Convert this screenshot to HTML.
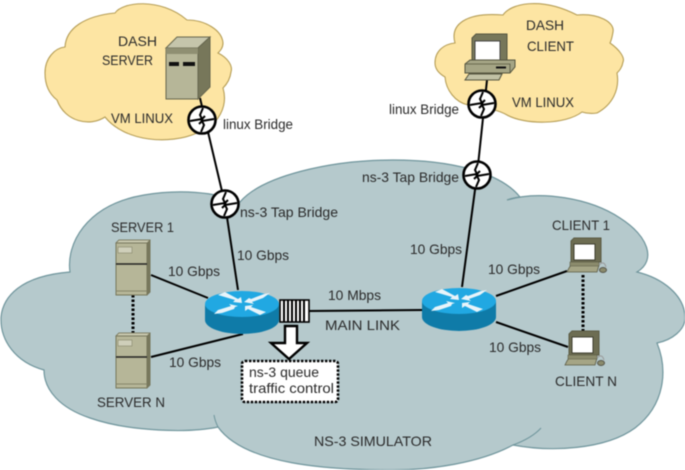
<!DOCTYPE html>
<html><head><meta charset="utf-8"><style>
html,body{margin:0;padding:0;background:#fff;width:685px;height:470px;overflow:hidden}
svg{display:block;filter:blur(.4px)}
text{font-family:"Liberation Sans",sans-serif;font-size:14px;fill:#2a2a2a}
</style></head><body>
<svg width="685" height="470" viewBox="0 0 685 470" xmlns="http://www.w3.org/2000/svg">
<defs>
<g id="sym-bridge">
<circle r="13.5" fill="#fff" stroke="#000" stroke-width="2.6"/>
<path d="M-12,1 L0,-1 L-2,-5 L1,-12 M12,-1 L0,1 L2,5 L-1,12 M0,-1 L3,-4 M0,1 L-3,4" fill="none" stroke="#000" stroke-width="2"/>
</g>
<g id="sym-router">
<path d="M-37,0 V16 A37,14 0 0 0 37,16 V0 Z" fill="#0f7ba8"/>
<ellipse rx="37" ry="13" fill="#21a8e2"/>
<g fill="#e8f4fa">
<path d="M-24,-9 L-17,-12 L-4,-5 L-1,-7 L0,-1 L-9,-2 L-7,-4 Z"/>
<path d="M22,-10 L28,-11 L21,-6 L10,-2 L12,0 L2,-2 L7,-6 L9,-5 Z"/>
<path d="M-4,2 L-7,3 L-8,5 L-20,9 L-28,10 L-24,6 L-11,2 L-13,0 Z"/>
<path d="M3,2 L11,1 L9,3 L24,8 L18,11 L6,5 L3,7 Z"/>
</g>
</g>
<g id="sym-server">
<path d="M0,3 L3,0 H34 V52 L31,55 Z" fill="#77775c" stroke="#77775c"/>
<path d="M0,3 L3,0 H34 L31,3 Z" fill="#c8c8ae" stroke="#77775c" stroke-width=".7"/>
<rect x="0" y="3" width="31" height="52" fill="#b6b698" stroke="#77775c"/>
<rect x="2" y="7" width="14" height="6" fill="#cfcfba" stroke="#8d8d72" stroke-width=".7"/>
<path d="M0,24 H31" stroke="#222" stroke-width="1.4"/>
<path d="M0,51 H31" stroke="#85856a" stroke-width="1"/>
</g>
<g id="sym-pc">
<path d="M2,3 L5,0 H32 V24 H2 Z" fill="#6d6d52" stroke="#5a5a44"/>
<rect x="5" y="6" width="21" height="16" fill="#fff" stroke="#3f3f30"/>
<path d="M2,27 H30 L28,34 H-2 L0,30 Z" fill="#a5a585" stroke="#5a5a44" stroke-width=".8"/>
<path d="M1,24 H30 V28 H1 Z" fill="#8b8b6c" stroke="#5a5a44" stroke-width=".6"/>
<ellipse cx="34" cy="32" rx="3.5" ry="2.5" fill="#8b8b6c" stroke="#55554a"/>
<path d="M30,27 Q35,22 37,29" fill="none" stroke="#999" stroke-width="1"/>
</g>
</defs>

<!-- Simulator cloud -->
<path d="M1,317 C3,297 20,276 70,272 C66,245 85,205 144,195 C180,189 215,192 240,202 C262,176 330,160 393,160 C450,160 500,172 520,197 C512,198 510,199 507,200 C540,190 590,198 620,218 C648,236 657,260 637,272 C662,278 685,295 685,318 C685,330 672,340 657,343 C668,370 665,405 635,428 C605,450 550,452 513,445 C480,463 430,470 393,470 C330,470 245,465 218,427 C190,433 130,432 90,418 C60,408 44,390 44,370 C15,362 0,340 1,317 Z" fill="#b5c9cc" stroke="#6f959c" stroke-width="1.2"/>
<path d="M214,415 Q215,421 218,427 M513,445 Q532,438 541,428" fill="none" stroke="#6f959c" stroke-width="1"/>

<!-- Yellow clouds -->
<path d="M45,73 C45,58 55,48 65,47 C66,28 85,16 115,13 C122,2 160,-3 187,20 C205,20 222,30 223,43 C223,48 220,51 218,53 C228,58 233,66 231,72 C230,80 226,85 223,88 C228,105 220,125 197,133 C170,145 125,142 105,117 C90,127 65,122 57,100 C48,93 45,83 45,73 Z" fill="#fde5a3" stroke="#b59d55" stroke-width="1.1"/>
<path d="M435,63 C435,50 445,44 455,43 C450,25 465,12 503,15 C510,4 540,-4 577,15 C598,13 615,22 613,32 C612,38 611,41 610,43 C620,50 625,58 623,62 C622,68 619,71 617,73 C620,90 612,105 597,113 C590,114 585,113 582,112 C565,125 525,125 507,115 C495,108 480,108 468,105 C455,102 446,90 445,77 C438,73 435,68 435,63 Z" fill="#fde5a3" stroke="#b59d55" stroke-width="1.1"/>

<!-- Links -->
<g stroke="#000" fill="none">
<path d="M200,98 L225,204 L238,290" stroke-width="2"/>
<path d="M487,80 L477,175 L462,287" stroke-width="2"/>
<path d="M151,275 L208,298 M151,357 L243,334 M309,311 L422,310 M496,296 L567,271 M496,322 L568,347" stroke-width="2"/>
<path d="M133,295 V334 M583,275 V332" stroke-width="3" stroke-dasharray="2.5 2"/>
</g>

<!-- Dash server -->
<path d="M166,48 L177,37 H210 L198,48 Z" fill="#c5c5ab" stroke="#66664e"/>
<path d="M198,48 L210,37 V87 L198,99 Z" fill="#77775a" stroke="#66664e"/>
<rect x="166" y="48" width="32" height="51" fill="#b6b698" stroke="#66664e"/>
<rect x="166" y="48" width="32" height="6" fill="#8f8f72"/>
<rect x="169" y="62" width="10" height="4" fill="#111"/>
<rect x="183" y="62" width="12" height="4" fill="#111"/>

<!-- Dash client -->
<path d="M472,38 L476,34 H507 V62 H472 Z" fill="#77775a" stroke="#55553f"/>
<rect x="475" y="41" width="25" height="19" fill="#fff" stroke="#444"/>
<path d="M465,64 L470,60 H515 V67 L510,73 H465 Z" fill="#a5a585" stroke="#55553f"/>
<path d="M465,64 H510 V73" fill="none" stroke="#55553f" stroke-width=".8"/>
<rect x="496" y="66.500" width="10" height="2" fill="#111"/>
<path d="M469,74 H502 L499,80 H465 Z" fill="#c1c1a5" stroke="#55553f"/>

<!-- Servers and clients -->
<use href="#sym-server" x="116" y="240"/>
<use href="#sym-server" x="116" y="333"/>
<use href="#sym-pc" x="569" y="238"/>
<use href="#sym-pc" x="567" y="331"/>

<!-- Routers -->
<use href="#sym-router" x="242" y="304"/>
<use href="#sym-router" x="459" y="301"/>

<!-- Bridges -->
<use href="#sym-bridge" x="202" y="120"/>
<use href="#sym-bridge" x="225" y="204"/>
<use href="#sym-bridge" x="482" y="104"/>
<use href="#sym-bridge" x="477" y="175"/>

<!-- Queue -->
<rect x="280" y="300" width="29" height="22" fill="#fff" stroke="#000" stroke-width="1.6"/>
<path d="M284,300 V322 M288,300 V322 M292,300 V322 M296,300 V322 M300,300 V322 M304,300 V322" stroke="#000" stroke-width="2"/>

<!-- Arrow -->
<path d="M285,326 H297 V343 H307 L289,359 L271,343 H285 Z" fill="#fff" stroke="#000" stroke-width="2.4"/>

<!-- Dotted box -->
<rect x="242" y="361" width="96" height="41" rx="3" fill="#fff" stroke="#000" stroke-width="2.6" stroke-dasharray="2.4 1.6"/>

<!-- Labels -->
<text x="118" y="46" textLength="39" lengthAdjust="spacingAndGlyphs">DASH</text>
<text x="102" y="65" textLength="51" lengthAdjust="spacingAndGlyphs">SERVER</text>
<text x="111" y="123" textLength="62" lengthAdjust="spacingAndGlyphs">VM LINUX</text>
<text x="223" y="129" textLength="70" lengthAdjust="spacingAndGlyphs">linux Bridge</text>
<text x="240" y="217" textLength="98" lengthAdjust="spacingAndGlyphs">ns-3 Tap Bridge</text>
<text x="111" y="232" textLength="63" lengthAdjust="spacingAndGlyphs">SERVER 1</text>
<text x="237" y="260" textLength="52" lengthAdjust="spacingAndGlyphs">10 Gbps</text>
<text x="168" y="276" textLength="52" lengthAdjust="spacingAndGlyphs">10 Gbps</text>
<text x="328" y="300" textLength="53" lengthAdjust="spacingAndGlyphs">10 Mbps</text>
<text x="325" y="330" textLength="75" lengthAdjust="spacingAndGlyphs">MAIN LINK</text>
<text x="169" y="367" textLength="52" lengthAdjust="spacingAndGlyphs">10 Gbps</text>
<text x="97" y="407" textLength="68" lengthAdjust="spacingAndGlyphs">SERVER N</text>
<text x="249" y="377" textLength="70" lengthAdjust="spacingAndGlyphs">ns-3 queue</text>
<text x="249" y="393" textLength="85" lengthAdjust="spacingAndGlyphs">traffic control</text>
<text x="314" y="446" textLength="118" lengthAdjust="spacingAndGlyphs">NS-3 SIMULATOR</text>
<text x="526" y="30" textLength="38" lengthAdjust="spacingAndGlyphs">DASH</text>
<text x="527" y="51" textLength="47" lengthAdjust="spacingAndGlyphs">CLIENT</text>
<text x="512" y="107" textLength="62" lengthAdjust="spacingAndGlyphs">VM LINUX</text>
<text x="389" y="114" textLength="70" lengthAdjust="spacingAndGlyphs">linux Bridge</text>
<text x="362" y="182" textLength="97" lengthAdjust="spacingAndGlyphs">ns-3 Tap Bridge</text>
<text x="410" y="254" textLength="52" lengthAdjust="spacingAndGlyphs">10 Gbps</text>
<text x="488" y="274" textLength="52" lengthAdjust="spacingAndGlyphs">10 Gbps</text>
<text x="552" y="230" textLength="58" lengthAdjust="spacingAndGlyphs">CLIENT 1</text>
<text x="489" y="352" textLength="52" lengthAdjust="spacingAndGlyphs">10 Gbps</text>
<text x="555" y="386" textLength="62" lengthAdjust="spacingAndGlyphs">CLIENT N</text>
</svg>
</body></html>
